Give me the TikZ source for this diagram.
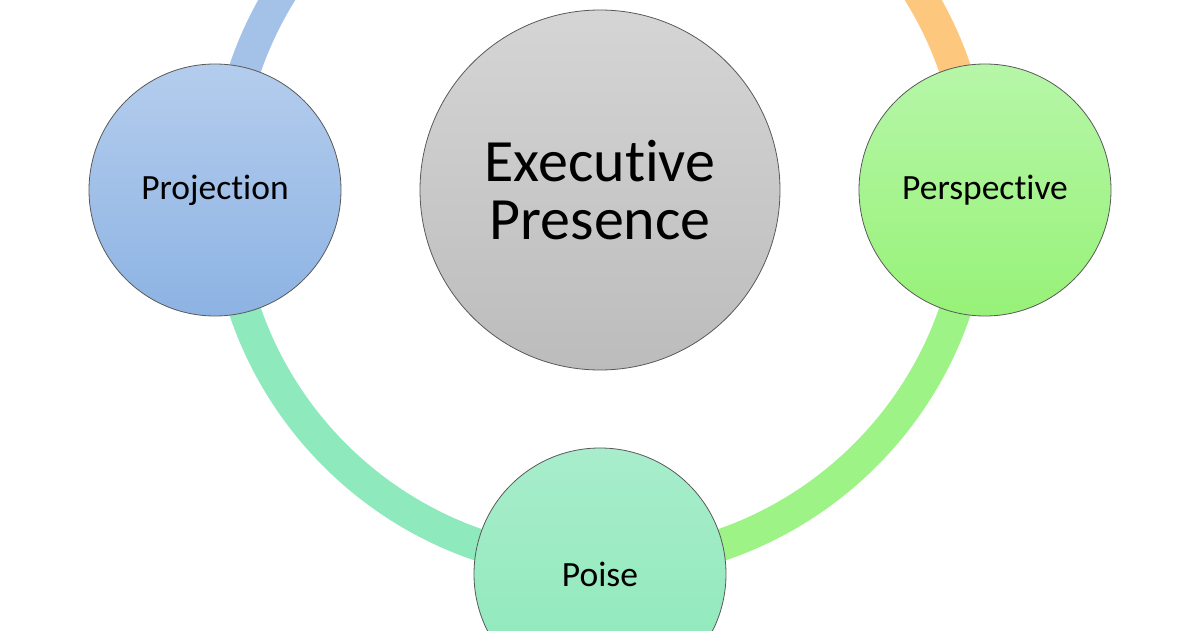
\documentclass[tikz,border=0pt]{standalone}
\usepackage{fontspec}
\setmainfont{Carlito}[Ligatures=NoCommon]
\usepackage{xcolor}
\usepackage{tikz}
\usetikzlibrary{positioning,backgrounds}

\definecolor{hubTop}{HTML}{D5D5D5}
\definecolor{hubBot}{HTML}{BCBCBC}
\definecolor{projTop}{HTML}{B4CDED}
\definecolor{projBot}{HTML}{8DB3E3}
\definecolor{perspTop}{HTML}{B6F6A8}
\definecolor{perspBot}{HTML}{97F278}
\definecolor{poiseTop}{HTML}{A8EDCC}
\definecolor{poiseBot}{HTML}{8CE8B8}
\definecolor{bandBlue}{HTML}{A4C2E7}
\definecolor{bandOrange}{HTML}{FDC87E}
\definecolor{bandMint}{HTML}{8EE9BD}
\definecolor{bandLime}{HTML}{9DF386}

\begin{document}
\begin{tikzpicture}[x=1pt, y=1pt,
  on grid,
  hub/.style  ={circle, draw=black!65, line width=0.8pt,
                minimum size=360pt, inner sep=0pt, align=center,
                top color=hubTop, bottom color=hubBot,
                font=\fontsize{60}{58}\selectfont},
  facet/.style={circle, draw=black!65, line width=0.8pt,
                minimum size=252pt, inner sep=0pt, align=center,
                font=\fontsize{35.5}{40}\selectfont},
  band/.style ={line width=32pt},
]
\useasboundingbox (0,0) rectangle (1200,630);

% === Centre ===
\node[hub] (hub) at (600,440) {Executive\\Presence};

% === Facets ===
\node[facet, top color=projTop, bottom color=projBot,
      left=385pt of hub] (proj) {Projection};

\node[facet, top color=perspTop, bottom color=perspBot,
      right=385pt of hub] (persp) {Perspective};

\node[facet, top color=poiseTop, bottom color=poiseBot,
      below=384pt of hub] (poise) {Poise};

% === Ring ===
\begin{scope}[on background layer]
\draw[band, bandBlue] ([shift={(180:375pt)}]hub.center)
  arc[start angle=180, end angle=90, radius=375pt];
\draw[band, bandOrange] ([shift={(90:375pt)}]hub.center)
  arc[start angle=90, end angle=0, radius=375pt];
\draw[band, bandLime] ([shift={(0:375pt)}]hub.center)
  arc[start angle=360, end angle=270, radius=375pt];
\draw[band, bandMint] ([shift={(270:375pt)}]hub.center)
  arc[start angle=270, end angle=180, radius=375pt];
\end{scope}

\end{tikzpicture}
\end{document}
